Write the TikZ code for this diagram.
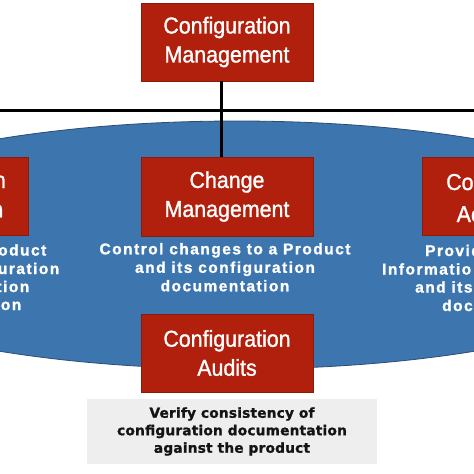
\documentclass[tikz,border=0pt]{standalone}
\usepackage{fontspec}
\setmainfont{Liberation Sans}
\newfontfamily\boxtextfont[FakeStretch=0.93, FakeBold=1.2]{Liberation Sans}
\newfontfamily\wtextfont[LetterSpace=9.5, FakeBold=1.3]{Liberation Sans}
\newfontfamily\gtextfont[LetterSpace=1.5, FakeBold=1.2]{DejaVu Sans}
\usetikzlibrary{shapes.geometric}
\definecolor{cmred}{HTML}{B0200C}
\definecolor{cmredd}{HTML}{8A1A0A}
\definecolor{cmblue}{HTML}{3D76AE}
\definecolor{cmblued}{HTML}{2B4D74}
\definecolor{cmgray}{HTML}{EEEEEE}
\definecolor{cmdark}{HTML}{141414}
\begin{document}
\begin{tikzpicture}[x=1pt,y=-1pt,
  redbox/.style={rectangle, fill=cmred, draw=cmredd, line width=0.8pt,
    minimum width=172pt, minimum height=78pt, inner sep=0pt,
    text=white, align=center, font=\boxtextfont\fontsize{23}{29}\selectfont},
  boxfrag/.style={inner sep=0pt, text=white, font=\boxtextfont\fontsize{23}{29}\selectfont},
  wtxt/.style={inner sep=0pt, text=white, font=\wtextfont\bfseries\fontsize{15.5}{18.5}\selectfont},
  conn/.style={draw=black, line width=3pt},
  hline/.style={draw=black, line width=2.5pt},
]
\useasboundingbox (0,0) rectangle (474,474);
\clip (0,0) rectangle (474,474);
\fill[white] (0,0) rectangle (474,474);

% blue ellipse
\node[ellipse, fill=cmblue, draw=cmblued, line width=0.8pt,
  minimum width=920pt, minimum height=248pt, inner sep=0pt] (ell) at (237,245) {};

% horizontal bus
\coordinate (hl) at (-5,110.7);
\coordinate (hr) at (479,110.7);
\draw[hline] (hl) -- (hr);

% boxes
\node[redbox] (top) at (227,42) {Configuration\\Management};
\node[redbox, minimum height=79pt] (chg) at (227,196.5) {Change\\Management};
\node[redbox] (aud) at (227,353) {Configuration\\Audits};
\node[redbox] (lbox) at (-57.5,196) {};
\node[redbox] (rbox) at (508.7,196) {};

% connector
\draw[conn] ([xshift=-6pt]top.south) -- ([xshift=-6pt]chg.north);

% fragments of the cut-off boxes
\node[boxfrag, anchor=base east] (lb1) at (6,188) {n};
\node[boxfrag, anchor=base east] (lb2) at (3.5,217.3) {n};
\node[boxfrag, anchor=base west] (rb1) at (446,190) {Co};
\node[boxfrag, anchor=base west] (rb2) at (456.5,222) {Ac};

% centre description
\node[wtxt, anchor=base] (c1) at (225,254.3) {Control changes to a Product};
\node[wtxt, anchor=base] (c2) at (225,272.8) {and its configuration};
\node[wtxt, anchor=base] (c3) at (225,291.3) {documentation};

% left description fragments
\node[wtxt, anchor=base east] (l1) at (46.5,255.5) {oduct};
\node[wtxt, anchor=base east] (l2) at (59.5,274) {uration};
\node[wtxt, anchor=base east] (l3) at (29.5,292) {tion};
\node[wtxt, anchor=base east] (l4) at (21.5,310) {on};

% right description fragments
\node[wtxt, anchor=base west] (r1) at (425,256) {Provid};
\node[wtxt, anchor=base west] (r2) at (382,274.5) {Informatio};
\node[wtxt, anchor=base west] (r3) at (415,292.5) {and its};
\node[wtxt, anchor=base west] (r4) at (442,311) {doc};

% grey note
\node[rectangle, fill=cmgray, minimum width=290pt, minimum height=65pt,
  inner sep=0pt, text=cmdark, align=center,
  font=\gtextfont\bfseries\fontsize{13.7}{17.5}\selectfont] (note) at (232,431.5)
  {Verify consistency of\\configuration documentation\\against the product};
\end{tikzpicture}
\end{document}
